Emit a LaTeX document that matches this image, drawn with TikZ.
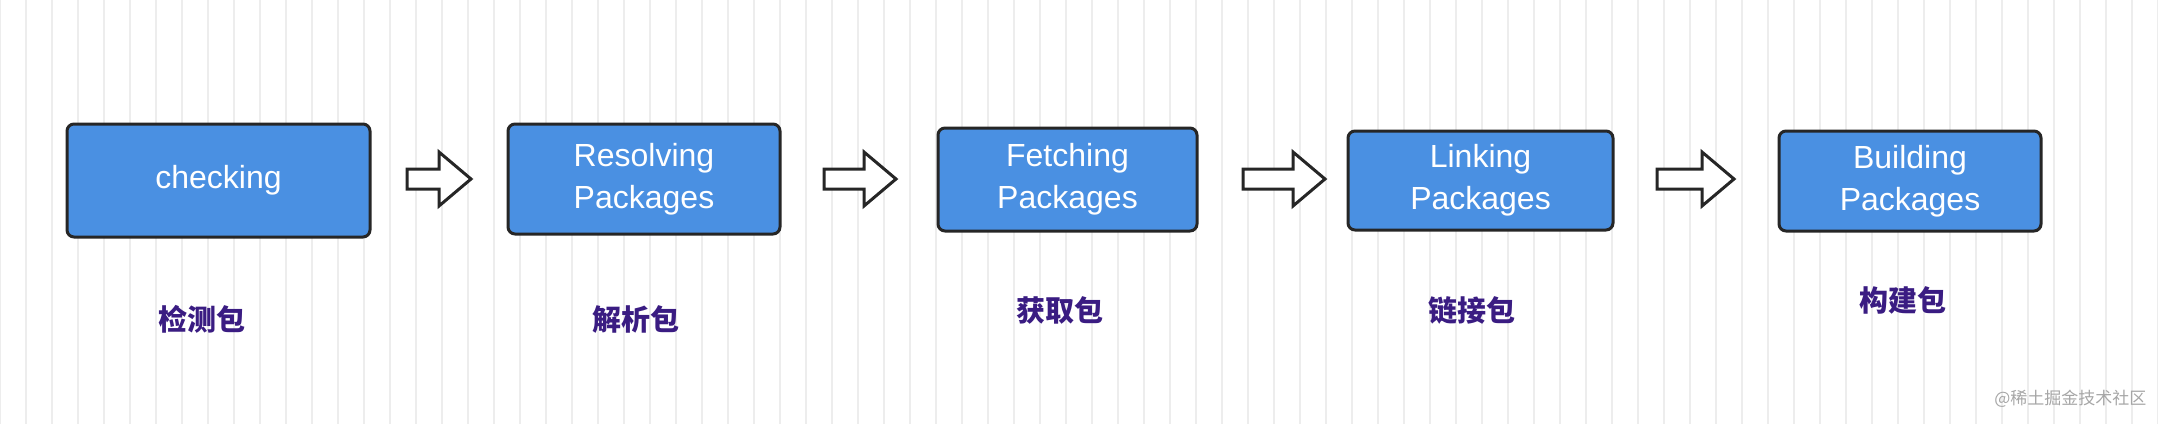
\documentclass[tikz,border=0pt]{standalone}
\usepackage{fontspec}
\setmainfont{Liberation Sans}
\newfontfamily\cjk{Noto Sans CJK SC}
\definecolor{boxblue}{HTML}{4A90E2}
\definecolor{lab}{HTML}{3A1C82}
\begin{document}
\begin{tikzpicture}[x=1pt,y=-1pt,
  stepbox/.style={draw=black!85,line width=3pt,rounded corners=7pt,fill=boxblue,text=white,font=\fontsize{32}{42}\selectfont,align=center,inner sep=0pt},
  lbl/.style={text=lab,font=\cjk\bfseries\fontsize{29}{34}\selectfont},
  barrow/.style={draw=black!85,line width=3pt,fill=white,line join=miter}]
\useasboundingbox (0,0) rectangle (2158,424);
\draw[black!7,line width=1.2pt] (0,0) grid[step=26] (2158,424);
\foreach \x/\y/\w/\h/\n/\t/\l/\ly/\lx in {
 67/124/303/113/a/checking/检测包/319/202,
 508/124/272/110/b/Resolving\\Packages/解析包/319/636,
 938/128/259/103/c/Fetching\\Packages/获取包/310/1060,
 1348/131/265/99/d/Linking\\Packages/链接包/310/1472,
 1779/131/262/100/e/Building\\Packages/构建包/300/1903}{
  \node[stepbox,minimum width=\w,minimum height=\h] (\n) at (\x+\w/2,\y+\h/2) {\t};
  \node[lbl] (l\n) at (\lx,\ly) {\l};
}
\foreach \xa/\xb in {407/471,824/896,1243/1325,1657/1734}{
  \draw[barrow] (\xa,169) -- (\xb-32,169) -- (\xb-32,152) -- (\xb,179) -- (\xb-32,206) -- (\xb-32,189) -- (\xa,189) -- cycle;
}
\node[text=black!35,font=\cjk\fontsize{17}{20}\selectfont,anchor=east] (wm) at (2150,399) {@稀土掘金技术社区};
\end{tikzpicture}
\end{document}
